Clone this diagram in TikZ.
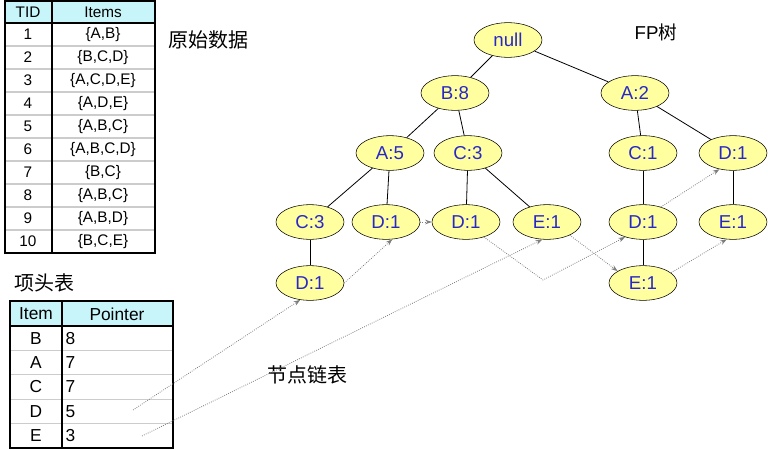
\documentclass[tikz,border=0pt]{standalone}
\usepackage{fontspec}
\setmainfont{Liberation Sans}
\newfontfamily\cjk{Noto Sans CJK SC}
\usetikzlibrary{shapes.geometric,arrows.meta}
\definecolor{nodefill}{RGB}{255,255,160}
\definecolor{nodetext}{RGB}{40,40,200}
\definecolor{headfill}{RGB}{200,245,250}
\tikzset{
 tn/.style={ellipse,draw,fill=nodefill,text=nodetext,minimum width=51pt,minimum height=26pt,inner sep=0pt,font=\fontsize{14}{14}\selectfont},
 tedge/.style={draw,line width=0.6pt},
 lnk/.style={draw=gray,densely dotted,line width=0.6pt,-{Stealth[length=5pt,width=3.5pt,fill=black]}},
 cell/.style={font=\fontsize{11.5}{12}\selectfont},
 lbl/.style={font=\cjk\fontsize{15}{16}\selectfont}
}
\begin{document}
\begin{tikzpicture}[x=0.75pt,y=-0.75pt]
\useasboundingbox[fill=white] (0,0) rectangle (768,450);
% table 1
\fill[headfill] (5,1) rectangle (155,23);
\foreach \i in {1,...,9} \draw[gray!40,line width=1pt] (5,{23+23*\i}) -- (155,{23+23*\i});
\draw[line width=0.8pt] (5,1) rectangle (155,253);
\draw[line width=0.8pt] (5,23) -- (155,23);
\draw[line width=0.8pt] (52,1) -- (52,253);
\node[cell] (th1) at (28,12) {TID};
\node[cell] (th2) at (103,12) {Items};
\foreach \n/\s [count=\i] in {1/{\{A,B\}},2/{\{B,C,D\}},3/{\{A,C,D,E\}},4/{\{A,D,E\}},5/{\{A,B,C\}},6/{\{A,B,C,D\}},7/{\{B,C\}},8/{\{A,B,C\}},9/{\{A,B,D\}},10/{\{B,C,E\}}}{
 \node[cell] (ta\i) at (28,{23*\i+11.5}) {\n};
 \node[cell] (tb\i) at (103,{23*\i+11.5}) {\s};
}
% table 2
\fill[headfill] (10,301) rectangle (173,326);
\foreach \i in {1,...,4} \draw[gray!40,line width=1pt] (10,{326+24.4*\i}) -- (173,{326+24.4*\i});
\draw[line width=0.8pt] (10,301) rectangle (173,448);
\draw[line width=0.8pt] (10,326) -- (173,326);
\draw[line width=0.8pt] (62,301) -- (62,448);
\node[cell,font=\fontsize{13}{14}\selectfont] (h1) at (36,314) {Item};
\node[cell,font=\fontsize{13}{14}\selectfont] (h2) at (117,314) {Pointer};
\foreach \a/\b [count=\i] in {B/8,A/7,C/7,D/5,E/3}{
 \node[cell,font=\fontsize{13}{14}\selectfont] (pa\i) at (36,{326+24.4*\i-12.2}) {\a};
 \node[cell,font=\fontsize{13}{14}\selectfont,anchor=west,inner sep=1pt] (pb\i) at (64,{326+24.4*\i-12.2}) {\b};
}
% labels
\node[lbl] (l1) at (208,40) {原始数据};
\node[lbl,font=\fontsize{14}{15}\selectfont] (l2) at (656,32) {FP{\cjk 树}};
\node[lbl] (l3) at (45,283) {项头表};
\node[lbl] (l4) at (307,375) {节点链表};
% tree
\node[tn] (null) at (508,40) {null};
\node[tn] (b8) at (455,93) {B:8};
\node[tn] (a2) at (635,93) {A:2};
\node[tn] (a5) at (390,153) {A:5};
\node[tn] (c3b) at (468,153) {C:3};
\node[tn] (c1) at (643,153) {C:1};
\node[tn] (d1r) at (733,153) {D:1};
\node[tn] (c3a) at (310,222) {C:3};
\node[tn] (d1a) at (386,222) {D:1};
\node[tn] (d1b) at (466,222) {D:1};
\node[tn] (e1a) at (547,222) {E:1};
\node[tn] (d1c) at (643,222) {D:1};
\node[tn] (e1b) at (733,222) {E:1};
\node[tn] (d1d) at (310,283) {D:1};
\node[tn] (e1c) at (643,283) {E:1};
\foreach \u/\v in {null/b8,null/a2,b8/a5,b8/c3b,a2/c1,a2/d1r,a5/c3a,a5/d1a,c3b/d1b,c3b/e1a,c1/d1c,d1r/e1b,c3a/d1d,d1c/e1c}
 \draw[tedge] (\u) -- (\v);
% node links
\coordinate (p4) at (133,410);
\coordinate (p5) at (142,436);
\coordinate (bend) at (543,280);
\draw[lnk] (p4) -- (d1d.-120);
\draw[lnk] (p5) -- (e1a.-105);
\draw[lnk] (d1d.east) -- (d1a.-70);
\draw[lnk] (d1a.east) -- (d1b.west);
\draw[lnk] (d1b.-40) -- (bend) -- (d1c.-140);
\draw[lnk] (d1c.40) -- (d1r.-130);
\draw[lnk] (e1a.-30) -- (e1c.155);
\draw[lnk] (e1c.20) -- (e1b.-110);
\end{tikzpicture}
\end{document}
